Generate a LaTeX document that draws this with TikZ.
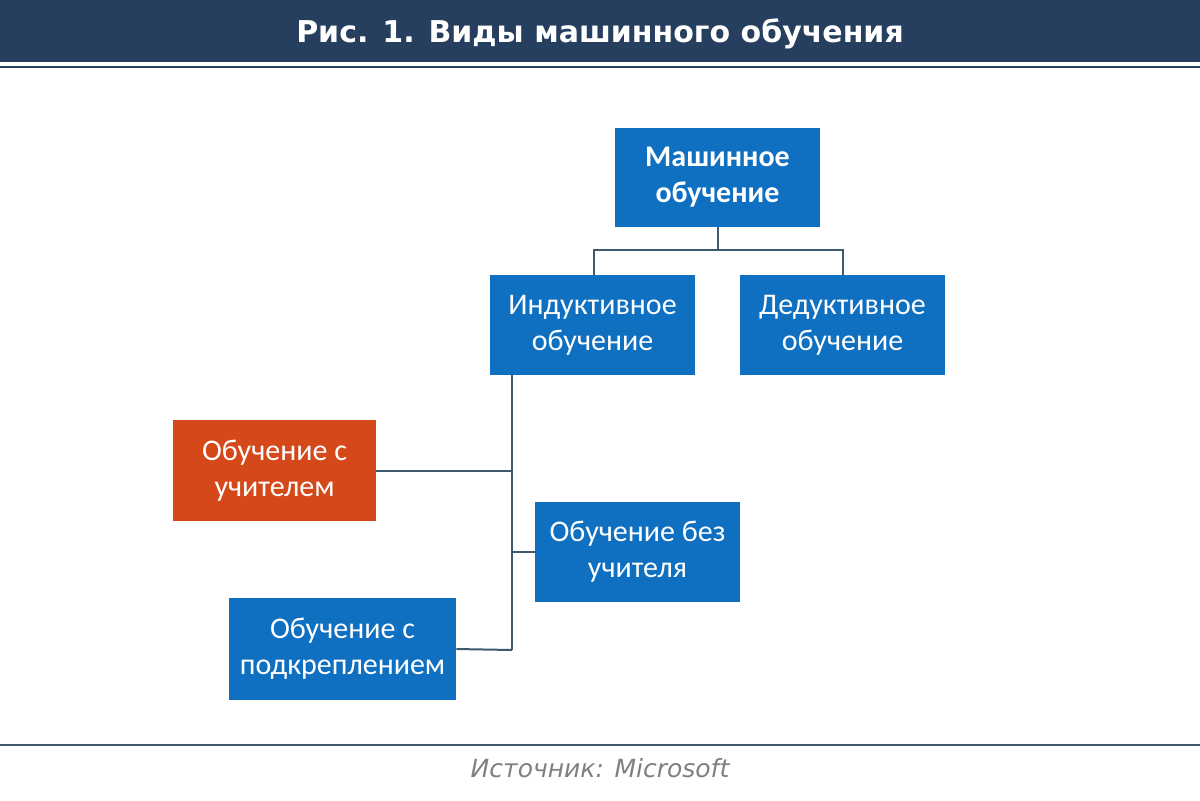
\documentclass[tikz,border=0pt]{standalone}
\usepackage{fontspec}
\setmainfont{Carlito}
\newfontfamily\titlefont{DejaVu Sans}
\definecolor{navy}{HTML}{263F5F}
\definecolor{boxblue}{HTML}{0F6FC0}
\definecolor{boxorange}{HTML}{D5481A}
\definecolor{lineclr}{HTML}{3E5A6E}
\begin{document}
\begin{tikzpicture}[x=0.5pt,y=-0.5pt,
  bx/.style={fill=boxblue,text=white,font=\fontsize{15}{18}\selectfont,align=center,inner sep=0},
  conn/.style={draw=lineclr,line width=1pt}]
\useasboundingbox (0,0) rectangle (1200,800);
\fill[white] (0,0) rectangle (1200,800);
\fill[navy] (0,0) rectangle (1200,62);
\draw[navy,line width=0.8pt] (0,67) -- (1200,67);
\node[text=white,font=\titlefont\bfseries\fontsize{15}{18}\selectfont] (title) at (600,34) {Рис. 1. Виды машинного обучения};
\draw[lineclr,line width=0.8pt] (0,745) -- (1200,745);
\node[text=gray,font=\titlefont\itshape\fontsize{12.5}{15}\selectfont] (src) at (600,768) {Источник: Microsoft};

\node[bx,minimum width=102.5pt,minimum height=49.5pt,font=\bfseries\fontsize{15}{18}\selectfont] (ml) at (717.5,177.5) {Машинное\\обучение};
\node[bx,minimum width=102.5pt,minimum height=50pt] (ind) at (592.5,325) {Индуктивное\\обучение};
\node[bx,minimum width=102.5pt,minimum height=50pt] (ded) at (842.5,325) {Дедуктивное\\обучение};
\node[bx,fill=boxorange,minimum width=101.5pt,minimum height=50.5pt] (sup) at (274.5,470.5) {Обучение с\\учителем};
\node[bx,minimum width=102.5pt,minimum height=50pt] (uns) at (637.5,552) {Обучение без\\учителя};
\node[bx,minimum width=113.5pt,minimum height=51pt] (rl) at (342.5,649) {Обучение с\\подкреплением};

\coordinate (j1) at (717.5,250);
\coordinate (t) at (512,375);
\coordinate (b) at (512,650);
\draw[conn] (ml.south) -- (j1);
\draw[conn] (ind.north -| 594,0) -- (594,250) -- (843,250) -- (ded.north -| 843,0);
\draw[conn] (t) -- (b);
\draw[conn] (sup.east) -- (sup.east -| t);
\draw[conn] (uns.west) -- (uns.west -| t);
\draw[conn] (rl.east) -- (b);
\end{tikzpicture}
\end{document}
